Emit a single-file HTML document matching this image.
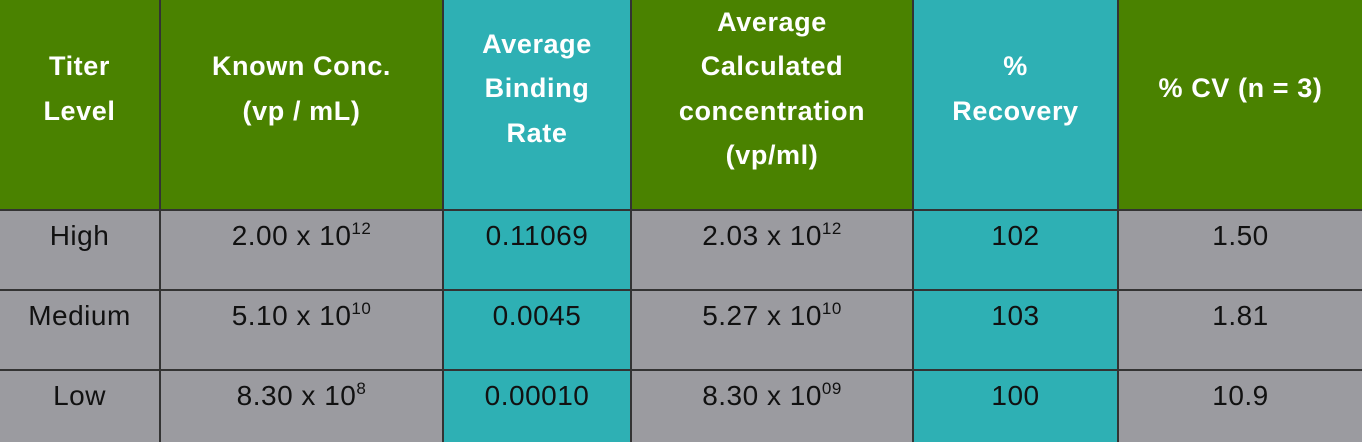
<!DOCTYPE html>
<html><head><style>
body{margin:0;width:1362px;height:442px;overflow:hidden;background:#333;font-family:"Liberation Sans",sans-serif}
.c{position:absolute;box-sizing:border-box;display:flex;justify-content:center;text-align:center}
.h{align-items:center;color:#fff;font-weight:bold;font-size:27px;line-height:44.5px;padding-bottom:32px;letter-spacing:0.6px}
.b{align-items:flex-start;padding-top:7px;color:#111;font-size:28px;line-height:36px;letter-spacing:0.5px}
.g{background:#4a8200}.t{background:#2eb0b4}.y{background:#9b9ba0}
sup{font-size:17px;vertical-align:11px;line-height:0}
</style></head><body>
<div class="c h g" style="left:0;top:0;width:159px;height:209px">Titer<br>Level</div>
<div class="c h g" style="left:161px;top:0;width:281px;height:209px">Known Conc.<br>(vp / mL)</div>
<div class="c h t" style="left:444px;top:0;width:186px;height:209px">Average<br>Binding<br>Rate</div>
<div class="c h g" style="left:632px;top:0;width:280px;height:209px">Average<br>Calculated<br>concentration<br>(vp/ml)</div>
<div class="c h t" style="left:914px;top:0;width:203px;height:209px">%<br>Recovery</div>
<div class="c h g" style="left:1119px;top:0;width:243px;height:209px">% CV (n = 3)</div>

<div class="c b y" style="left:0;top:211px;width:159px;height:78px">High</div>
<div class="c b y" style="left:161px;top:211px;width:281px;height:78px"><span>2.00 x 10<sup>12</sup></span></div>
<div class="c b t" style="left:444px;top:211px;width:186px;height:78px">0.11069</div>
<div class="c b y" style="left:632px;top:211px;width:280px;height:78px"><span>2.03 x 10<sup>12</sup></span></div>
<div class="c b t" style="left:914px;top:211px;width:203px;height:78px">102</div>
<div class="c b y" style="left:1119px;top:211px;width:243px;height:78px">1.50</div>

<div class="c b y" style="left:0;top:291px;width:159px;height:78px">Medium</div>
<div class="c b y" style="left:161px;top:291px;width:281px;height:78px"><span>5.10 x 10<sup>10</sup></span></div>
<div class="c b t" style="left:444px;top:291px;width:186px;height:78px">0.0045</div>
<div class="c b y" style="left:632px;top:291px;width:280px;height:78px"><span>5.27 x 10<sup>10</sup></span></div>
<div class="c b t" style="left:914px;top:291px;width:203px;height:78px">103</div>
<div class="c b y" style="left:1119px;top:291px;width:243px;height:78px">1.81</div>

<div class="c b y" style="left:0;top:371px;width:159px;height:71px">Low</div>
<div class="c b y" style="left:161px;top:371px;width:281px;height:71px"><span>8.30 x 10<sup>8</sup></span></div>
<div class="c b t" style="left:444px;top:371px;width:186px;height:71px">0.00010</div>
<div class="c b y" style="left:632px;top:371px;width:280px;height:71px"><span>8.30 x 10<sup>09</sup></span></div>
<div class="c b t" style="left:914px;top:371px;width:203px;height:71px">100</div>
<div class="c b y" style="left:1119px;top:371px;width:243px;height:71px">10.9</div>
</body></html>
